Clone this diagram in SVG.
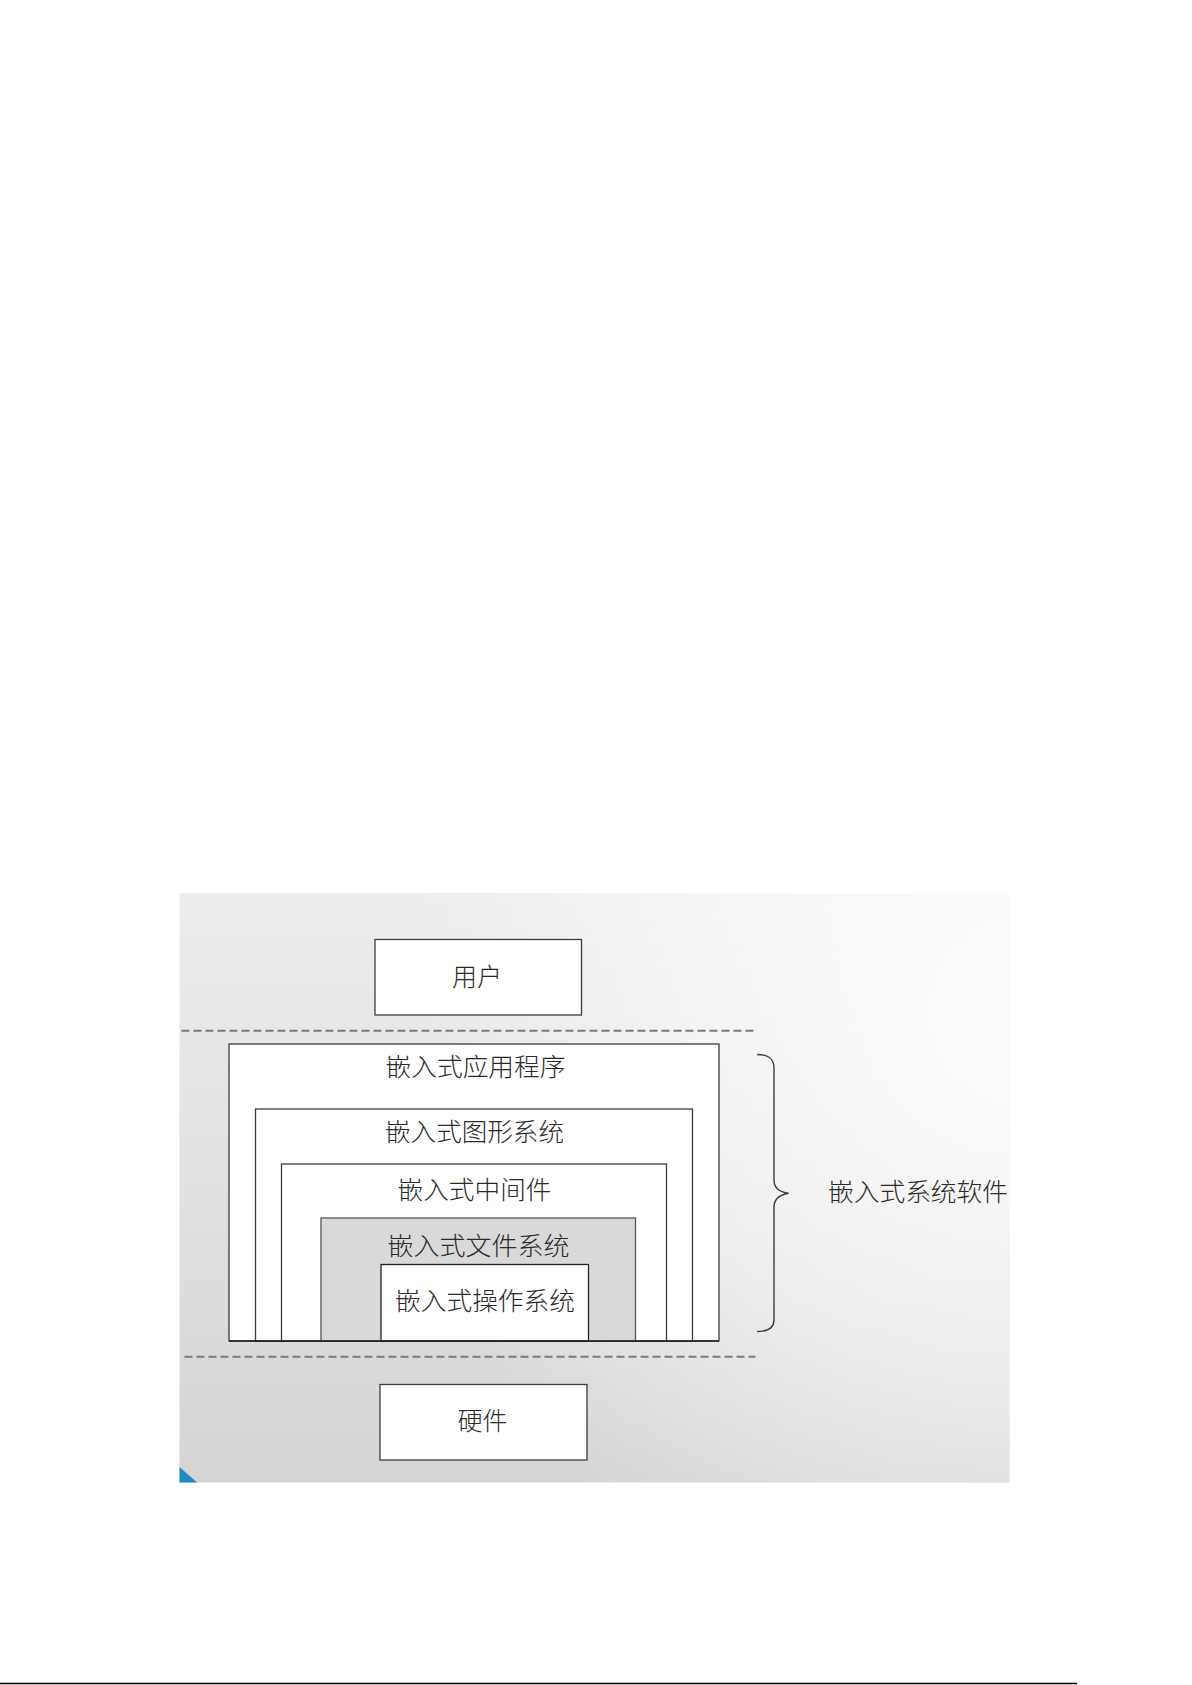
<svg xmlns="http://www.w3.org/2000/svg" width="1192" height="1685" viewBox="0 0 1192 1685">
<defs>
<linearGradient id="bgv" x1="0" y1="893" x2="0" y2="1482" gradientUnits="userSpaceOnUse">
<stop offset="0" stop-color="#ededed"/>
<stop offset="1" stop-color="#d4d4d4"/>
</linearGradient>
<radialGradient id="bgr" cx="1010" cy="1040" r="620" gradientUnits="userSpaceOnUse">
<stop offset="0" stop-color="#ffffff" stop-opacity="0.9"/>
<stop offset="0.55" stop-color="#ffffff" stop-opacity="0.5"/>
<stop offset="1" stop-color="#ffffff" stop-opacity="0"/>
</radialGradient>
<style>
.box{fill:#ffffff;stroke:#3c3c3c;stroke-width:1.3}
.gray{fill:#d9d9d9;stroke:#555555;stroke-width:1.3}
.lbl{font-family:"Noto Sans CJK SC","Noto Sans CJK JP",sans-serif;font-size:25px;font-weight:300;fill:#2a2a2a;text-anchor:middle;dominant-baseline:central}
.dash{stroke:#7a7a7a;stroke-width:2;stroke-dasharray:8 4;fill:none}
.brace{stroke:#3c3c3c;stroke-width:1.4;fill:none}
</style>
</defs>
<rect x="0" y="0" width="1192" height="1685" fill="#ffffff"/>
<g id="panel">
<rect x="179.5" y="893" width="830" height="589.5" fill="url(#bgv)"/>
<rect x="179.5" y="893" width="830" height="589.5" fill="url(#bgr)"/>
<polygon points="179.5,1467 179.5,1482.5 197,1482.5" fill="#1f8ac6"/>
</g>
<g id="connectors">
<line class="dash" x1="181.5" y1="1030.7" x2="753.6" y2="1030.7"/>
<line class="dash" x1="184.5" y1="1356.7" x2="755.5" y2="1356.7"/>
<path class="brace" d="M757,1054.5 C768,1054.5 774,1058 774,1068 L774,1180 C774,1188 779,1192 788.5,1193.3 C779,1195 774,1199 774,1207 L774,1320 C774,1328 768,1331.5 757,1331.5"/>
</g>
<g id="user">
<rect class="box" x="375" y="939.5" width="206.5" height="75.5"/>
<text class="lbl" x="477" y="975" textLength="50" lengthAdjust="spacingAndGlyphs">用户</text>
</g>
<g id="app">
<rect class="box" x="229" y="1044" width="490" height="297"/>
<text class="lbl" x="475.5" y="1065" textLength="180" lengthAdjust="spacingAndGlyphs">嵌入式应用程序</text>
</g>
<g id="graphics">
<rect class="box" x="255.5" y="1109" width="437" height="232"/>
<text class="lbl" x="474.5" y="1130" textLength="179" lengthAdjust="spacingAndGlyphs">嵌入式图形系统</text>
</g>
<g id="middleware">
<rect class="box" x="281.5" y="1164" width="385" height="177"/>
<text class="lbl" x="474.5" y="1188" textLength="154" lengthAdjust="spacingAndGlyphs">嵌入式中间件</text>
</g>
<g id="filesystem">
<rect class="gray" x="321" y="1218" width="314.5" height="123"/>
<text class="lbl" x="478.5" y="1244" textLength="182" lengthAdjust="spacingAndGlyphs">嵌入式文件系统</text>
</g>
<g id="os">
<rect class="box" x="381" y="1264.5" width="207.5" height="76.5" style="stroke:#222222"/>
<text class="lbl" x="485" y="1299" textLength="180" lengthAdjust="spacingAndGlyphs">嵌入式操作系统</text>
</g>
<line x1="229" y1="1341" x2="719" y2="1341" stroke="#1e1e1e" stroke-width="1.6"/>
<g id="hardware">
<rect class="box" x="380" y="1384.5" width="207" height="75.5"/>
<text class="lbl" x="482.5" y="1419" textLength="50" lengthAdjust="spacingAndGlyphs">硬件</text>
</g>
<g id="system-software">
<text class="lbl" x="918" y="1190" textLength="180" lengthAdjust="spacingAndGlyphs">嵌入式系统软件</text>
</g>
<line x1="0" y1="1683.5" x2="1077" y2="1683.5" stroke="#000000" stroke-width="1.5"/>
</svg>
